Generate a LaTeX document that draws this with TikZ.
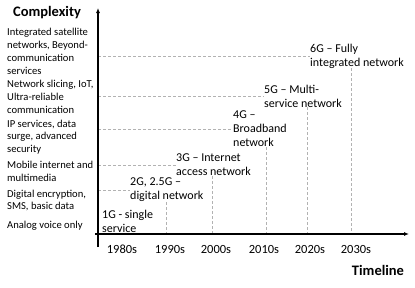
\documentclass[tikz,border=0pt]{standalone}
\usepackage{fontspec}
\setmainfont{Carlito}
\tikzset{
  axislabel/.style={font=\fontsize{14.5}{16}\selectfont\bfseries},
  reqlabel/.style={anchor=west,align=left,font=\fontsize{10.6}{12.8}\selectfont},
  genlabel/.style={anchor=west,align=left,font=\fontsize{12}{14}\selectfont},
  ticklabel/.style={font=\fontsize{12.5}{14}\selectfont},
  guide/.style={draw=black!30,line width=0.7pt,dash pattern=on 3pt off 2pt},
  axisline/.style={line width=1.3pt,-{Latex[length=5pt,width=4pt]}}
}
\usetikzlibrary{arrows.meta}
\begin{document}
\begin{tikzpicture}[x=1pt,y=-1pt,every node/.style={inner sep=0pt}]
      \useasboundingbox (0,0) rectangle (415,287);

      \coordinate (O) at (98,234);
      \coordinate (ybot) at (98,247);
      \coordinate (ytop) at (98,8);
      \coordinate (xbeg) at (95,234);
      \coordinate (xend) at (409,234);

      \node[axislabel] (ylab) at (47,13) {Complexity};
      \node[axislabel] (xlab) at (378,270) {Timeline};

      \node[reqlabel] (r6) at (7,51.5) {Integrated satellite\\networks, Beyond-\\communication\\services};
      \node[reqlabel] (r5) at (7,97) {Network slicing, IoT,\\Ultra-reliable\\communication};
      \node[reqlabel] (r4) at (7,137) {IP services, data\\surge, advanced\\security};
      \node[reqlabel] (r3) at (7,171.5) {Mobile internet and\\multimedia};
      \node[reqlabel] (r2) at (7,200.5) {Digital encryption,\\SMS, basic data};
      \node[reqlabel] (r1) at (7,226) {Analog voice only};

      \node[genlabel] (g1) at (102,221) {1G - single\\service};
      \node[genlabel] (g2) at (130,190) {2G, 2.5G --\\digital network};
      \node[genlabel] (g3) at (176,165) {3G -- Internet\\access network};
      \node[genlabel] (g4) at (233,129) {4G --\\Broadband\\network};
      \node[genlabel] (g5) at (264,96) {5G -- Multi-\\service network};
      \node[genlabel] (g6) at (310,56) {6G -- Fully\\integrated network};

      \node[ticklabel] (d1) at (122,249) {1980s};
      \node[ticklabel] (d2) at (170,249) {1990s};
      \node[ticklabel] (d3) at (216,249) {2000s};
      \node[ticklabel] (d4) at (264,249) {2010s};
      \node[ticklabel] (d5) at (310,249) {2020s};
      \node[ticklabel] (d6) at (356,249) {2030s};

      \coordinate (t2) at (166,234);
      \coordinate (t3) at (212,234);
      \coordinate (t4) at (266,234);
      \coordinate (t5) at (307,234);
      \coordinate (t6) at (351,234);

      \draw[guide] (O |- g2.west) -- (g2.west);
      \draw[guide] (O |- g3.west) -- (g3.west);
      \draw[guide] (O |- g4.west) -- (g4.west);
      \draw[guide] (O |- g5.west) -- (g5.west);
      \draw[guide] (O |- g6.west) -- (g6.west);

      \draw[guide] (t2 |- g2.south) -- (t2);
      \draw[guide] (t3 |- g3.south) -- (t3);
      \draw[guide] (t4 |- g4.south) -- (t4);
      \draw[guide] (t5 |- g5.south) -- (t5);
      \draw[guide] (t6 |- g6.south) -- (t6);

      \draw[axisline] (ybot) -- (ytop);
      \draw[axisline] (xbeg) -- (xend);
    \end{tikzpicture}
\end{document}
